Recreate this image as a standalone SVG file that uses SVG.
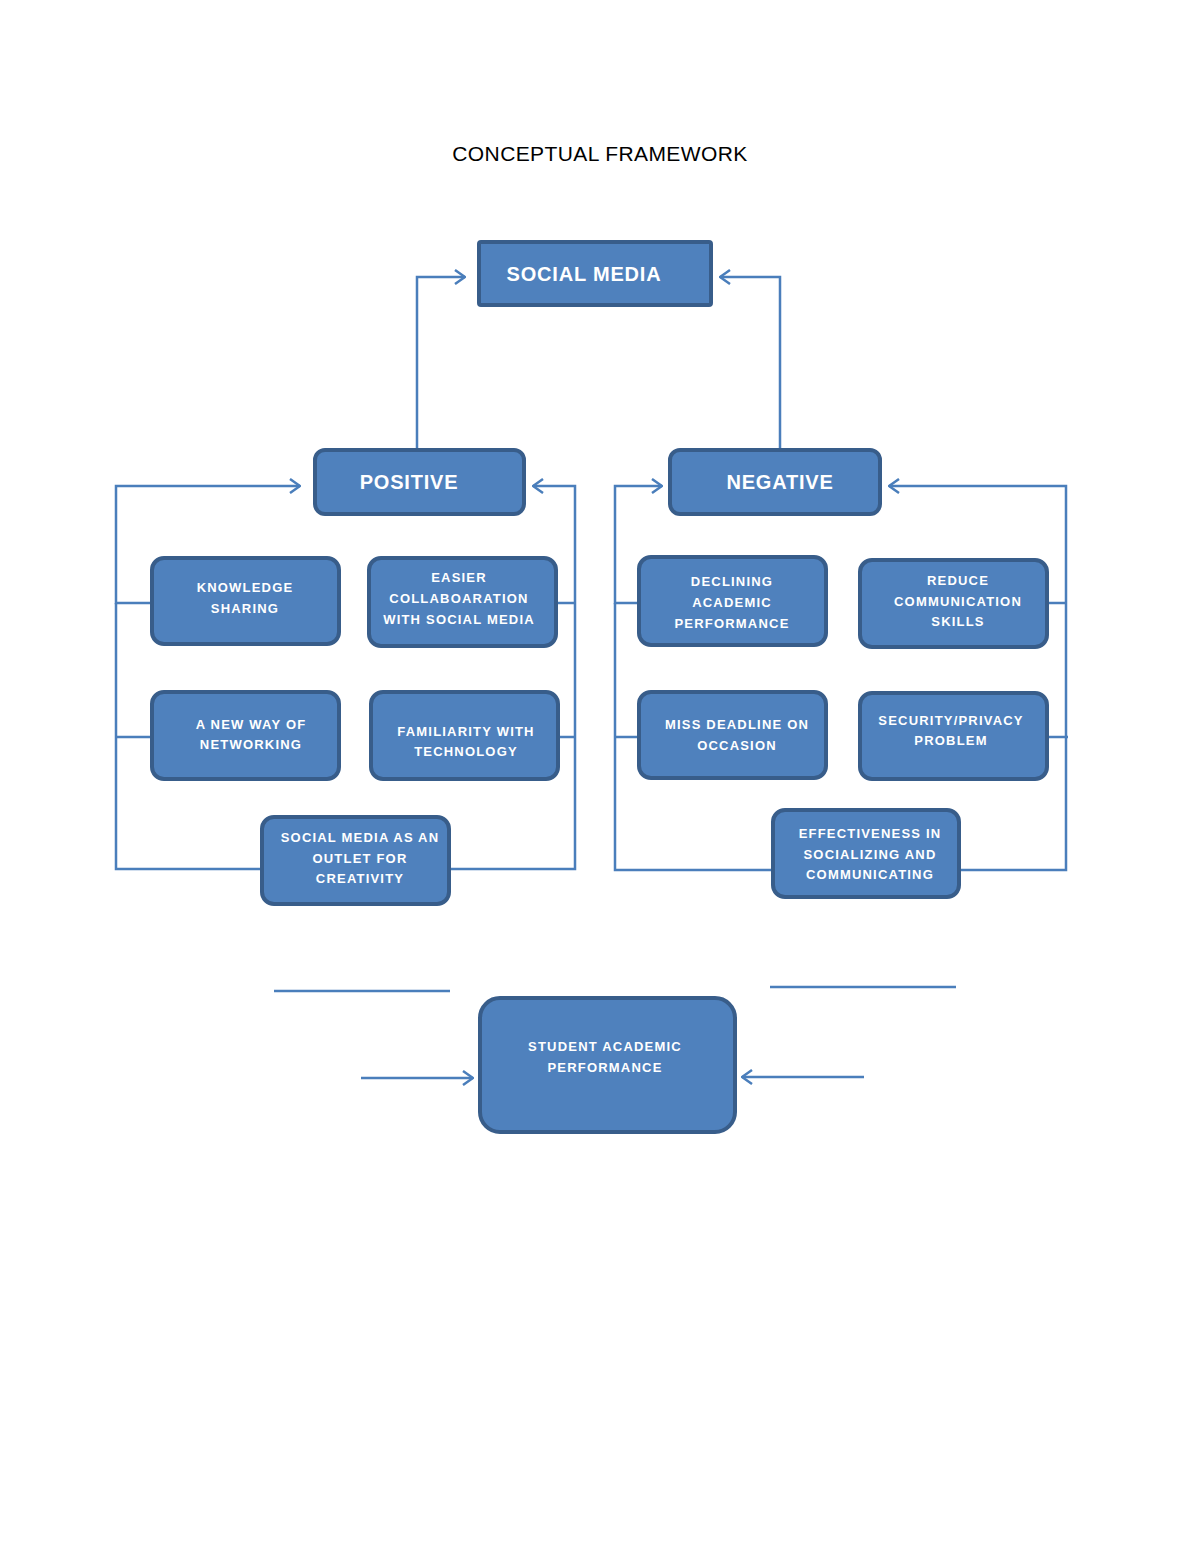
<svg xmlns="http://www.w3.org/2000/svg" width="1200" height="1553" viewBox="0 0 1200 1553">
<defs>
<style>
.box{fill:#4F81BD;stroke:#385D8A;stroke-width:4}
.big{font-family:"Liberation Sans",Arial,sans-serif;font-size:20px;font-weight:bold;fill:#fff;text-anchor:middle;letter-spacing:0.8px}
.sm{font-family:"Liberation Sans",Arial,sans-serif;font-size:13px;font-weight:bold;fill:#fff;text-anchor:middle;letter-spacing:1.2px}
.ln{fill:none;stroke:#4A7EBB;stroke-width:2.5}
.title{font-family:"Liberation Sans",Arial,sans-serif;font-size:21px;fill:#000;text-anchor:middle;letter-spacing:0.4px}
</style>
<marker id="arr" viewBox="0 0 12 16" refX="11" refY="8" markerWidth="12" markerHeight="16" markerUnits="userSpaceOnUse" orient="auto">
<path d="M1,1 L11,8 L1,15" fill="none" stroke="#4A7EBB" stroke-width="2.5"/>
</marker>
</defs>
<rect width="1200" height="1553" fill="#fff"/>
<text class="title" x="600" y="161">CONCEPTUAL FRAMEWORK</text>

<g id="connectors">
<path class="ln" d="M417,449 V277 H465" marker-end="url(#arr)"/>
<path class="ln" d="M780,449 V277 H720" marker-end="url(#arr)"/>
<path class="ln" d="M151,603 H116 V486 H300" marker-end="url(#arr)"/>
<path class="ln" d="M116,603 V869 H262"/>
<path class="ln" d="M116,737 H151"/>
<path class="ln" d="M450,869 H575 V486 H533" marker-end="url(#arr)"/>
<path class="ln" d="M557,603 H575"/>
<path class="ln" d="M559,737 H575"/>
<path class="ln" d="M638,603 H615 V486 H662" marker-end="url(#arr)"/>
<path class="ln" d="M615,603 V870 H772"/>
<path class="ln" d="M615,737 H638"/>
<path class="ln" d="M960,870 H1066 V486 H889" marker-end="url(#arr)"/>
<path class="ln" d="M1048,603 H1066"/>
<path class="ln" d="M1048,737 H1068"/>
<path class="ln" d="M274,991 H450"/>
<path class="ln" d="M770,987 H956"/>
<path class="ln" d="M361,1078 H473" marker-end="url(#arr)"/>
<path class="ln" d="M864,1077 H742" marker-end="url(#arr)"/>
</g>

<g id="social-media">
<rect class="box" x="479" y="242" width="232" height="63" rx="2"/>
<text class="big" x="584" y="281">SOCIAL MEDIA</text>
</g>
<g id="positive">
<rect class="box" x="315" y="450" width="209" height="64" rx="10"/>
<text class="big" x="409" y="489">POSITIVE</text>
</g>
<g id="negative">
<rect class="box" x="670" y="450" width="210" height="64" rx="10"/>
<text class="big" x="780" y="489">NEGATIVE</text>
</g>

<g id="knowledge-sharing">
<rect class="box" x="152" y="558" width="187" height="86" rx="12"/>
<text class="sm" x="245" y="592">KNOWLEDGE</text>
<text class="sm" x="245" y="613">SHARING</text>
</g>
<g id="easier-collaboration">
<rect class="box" x="369" y="558" width="187" height="88" rx="12"/>
<text class="sm" x="459" y="582">EASIER</text>
<text class="sm" x="459" y="603">COLLABOARATION</text>
<text class="sm" x="459" y="624">WITH SOCIAL MEDIA</text>
</g>
<g id="new-way-networking">
<rect class="box" x="152" y="692" width="187" height="87" rx="12"/>
<text class="sm" x="251" y="729">A NEW WAY OF</text>
<text class="sm" x="251" y="749">NETWORKING</text>
</g>
<g id="familiarity-technology">
<rect class="box" x="371" y="692" width="187" height="87" rx="12"/>
<text class="sm" x="466" y="736">FAMILIARITY WITH</text>
<text class="sm" x="466" y="756">TECHNOLOGY</text>
</g>
<g id="outlet-creativity">
<rect class="box" x="262" y="817" width="187" height="87" rx="12"/>
<text class="sm" x="360" y="842">SOCIAL MEDIA AS AN</text>
<text class="sm" x="360" y="863">OUTLET FOR</text>
<text class="sm" x="360" y="883">CREATIVITY</text>
</g>

<g id="declining-performance">
<rect class="box" x="639" y="557" width="187" height="88" rx="12"/>
<text class="sm" x="732" y="586">DECLINING</text>
<text class="sm" x="732" y="607">ACADEMIC</text>
<text class="sm" x="732" y="628">PERFORMANCE</text>
</g>
<g id="reduce-communication">
<rect class="box" x="860" y="560" width="187" height="87" rx="12"/>
<text class="sm" x="958" y="585">REDUCE</text>
<text class="sm" x="958" y="606">COMMUNICATION</text>
<text class="sm" x="958" y="626">SKILLS</text>
</g>
<g id="miss-deadline">
<rect class="box" x="639" y="692" width="187" height="86" rx="12"/>
<text class="sm" x="737" y="729">MISS DEADLINE ON</text>
<text class="sm" x="737" y="750">OCCASION</text>
</g>
<g id="security-privacy">
<rect class="box" x="860" y="693" width="187" height="86" rx="12"/>
<text class="sm" x="951" y="725">SECURITY/PRIVACY</text>
<text class="sm" x="951" y="745">PROBLEM</text>
</g>
<g id="effectiveness">
<rect class="box" x="773" y="810" width="186" height="87" rx="12"/>
<text class="sm" x="870" y="838">EFFECTIVENESS IN</text>
<text class="sm" x="870" y="859">SOCIALIZING AND</text>
<text class="sm" x="870" y="879">COMMUNICATING</text>
</g>

<g id="student-performance">
<rect class="box" x="480" y="998" width="255" height="134" rx="20"/>
<text class="sm" x="605" y="1051">STUDENT ACADEMIC</text>
<text class="sm" x="605" y="1072">PERFORMANCE</text>
</g>
</svg>
